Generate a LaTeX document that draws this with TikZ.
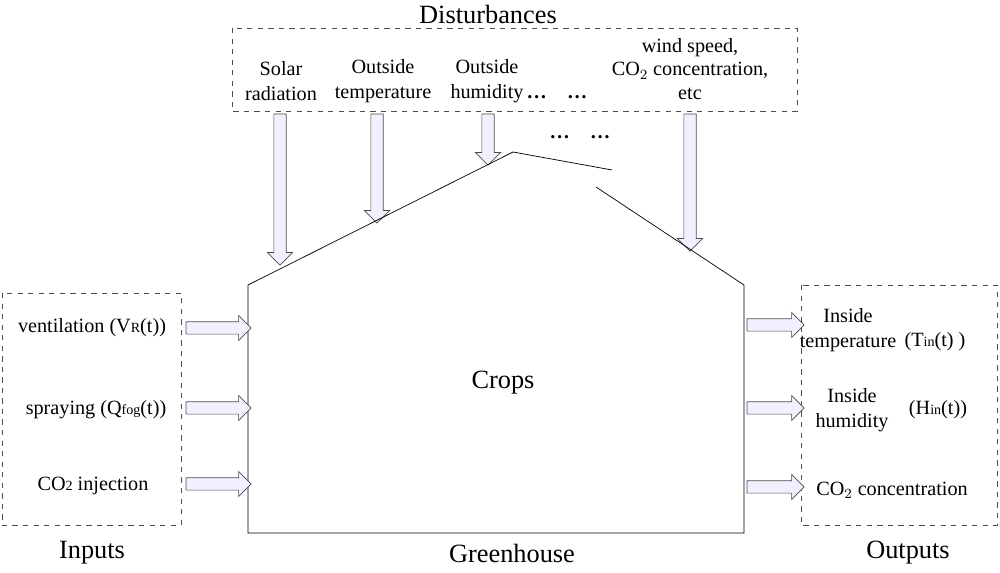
\documentclass[tikz,border=0pt]{standalone}
\usepackage{fontspec}
\setmainfont{Liberation Serif}
\usetikzlibrary{shapes.arrows}
\begin{document}
\begin{tikzpicture}[x=0.02cm,y=-0.02cm,
 barrow/.style={single arrow, draw=black!70, fill=blue!6, inner sep=3.3pt, single arrow head extend=3.6pt, single arrow head indent=0pt, minimum height=#1*0.02cm, anchor=center},
 dbox/.style={draw=black!70, dashed},
 txt/.style={font=\fontsize{11.5}{14}\selectfont, align=center, inner sep=0},
 ttl/.style={font=\fontsize{15}{18}\selectfont, inner sep=0}]
\useasboundingbox (0,0) rectangle (1000,573);
\node[ttl] (dist) at (488,14) {Disturbances};
\draw[dbox] (232,28) rectangle (797,111);
\node[txt] (sol) at (281,81) {Solar\\radiation};
\node[txt] (ot) at (383,81) {Outside\\temperature};
\node[txt] (oh) at (487,81) {Outside\\humidity};
\node[txt] (dd1) at (557,97) {\textbf{…\quad…}};
\node[txt, font=\fontsize{11.5}{13.5}\selectfont] (ws) at (690,69) {wind speed,\\CO$_2$ concentration,\\etc};
\node[barrow=151, shape border rotate=270] (a1) at (280,186.5) {};
\node[barrow=109, shape border rotate=270] (a2) at (377,165.5) {};
\node[barrow=51, shape border rotate=270] (a3) at (488,136.5) {};
\node[barrow=137, shape border rotate=270] (a4) at (690,179.5) {};
% greenhouse
\coordinate (gl) at (248,285); \coordinate (gr) at (744,285);
\coordinate (peak) at (513,152);
\draw (peak) -- (gl) -- (248,533) -- (744,533) -- (gr) -- (596,187);
\draw (peak) -- (612,170);
\node[txt] (dd2) at (580,137) {\textbf{…\quad…}};
\node[ttl] (crops) at (503,383) {Crops};
\node[ttl] (gh) at (512,553) {Greenhouse};
% inputs
\draw[dbox] (2,293) rectangle (181,525);
\node[txt] (i1) at (92,328) {ventilation (V{\footnotesize R}(t))};
\node[txt] (i2) at (96,410) {spraying (Q{\footnotesize fog}(t))};
\node[txt] (i3) at (93,486) {CO{\footnotesize 2} injection};
\node[barrow=65] (b1) at (215.5,328) {};
\node[barrow=65] (b2) at (215.5,408) {};
\node[barrow=65] (b3) at (215.5,484) {};
\node[ttl] (inp) at (92,553) {Inputs};
% outputs
\draw[dbox] (801,285) rectangle (997,525);
\node[barrow=57] (c1) at (772.5,325) {};
\node[barrow=57] (c2) at (772.5,408) {};
\node[barrow=57] (c3) at (772.5,487) {};
\node[txt] (o1) at (848,330) {Inside\\temperature};
\node[txt] (o1b) at (935,342) {(T{\footnotesize in}(t) )};
\node[txt] (o2) at (852,410) {Inside\\humidity};
\node[txt] (o2b) at (938,410) {(H{\footnotesize in}(t))};
\node[txt] (o3) at (892,490) {CO$_2$ concentration};
\node[ttl] (out) at (908,553) {Outputs};
\end{tikzpicture}
\end{document}
